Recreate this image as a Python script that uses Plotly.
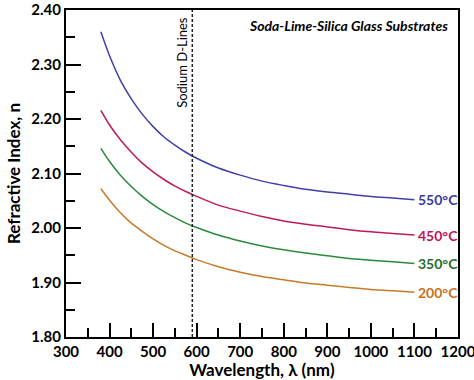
import plotly.graph_objects as go

wavelength = [380, 400, 425, 450, 475, 500, 525, 550, 575, 600, 650, 700, 750, 800, 850, 900, 950, 1000, 1050, 1100]
n_550 = [2.360, 2.316, 2.271, 2.237, 2.209, 2.186, 2.167, 2.152, 2.139, 2.128, 2.110, 2.097, 2.086, 2.078, 2.071, 2.066, 2.062, 2.058, 2.055, 2.052]
n_450 = [2.216, 2.189, 2.162, 2.139, 2.119, 2.103, 2.089, 2.077, 2.067, 2.058, 2.042, 2.031, 2.021, 2.013, 2.007, 2.002, 1.997, 1.993, 1.990, 1.987]
n_350 = [2.146, 2.122, 2.097, 2.076, 2.058, 2.043, 2.030, 2.019, 2.009, 2.001, 1.987, 1.976, 1.967, 1.960, 1.954, 1.949, 1.944, 1.941, 1.938, 1.935]
n_200 = [2.072, 2.051, 2.028, 2.009, 1.994, 1.980, 1.968, 1.958, 1.950, 1.942, 1.929, 1.919, 1.911, 1.905, 1.899, 1.895, 1.891, 1.887, 1.885, 1.882]
series_labels = ["550°C", "450°C", "350°C", "200°C"]
line_colors = ["#4040a8", "#c0185e", "#2a8a3a", "#c87a28"]
label_colors = ["#3a3aa0", "#c0145a", "#1f6e2a", "#c87020"]
sodium_d = 590

FONT = "Lato"
fig = go.Figure()
all_n = [n_550, n_450, n_350, n_200]
for vals, name, col, lcol in zip(all_n, series_labels, line_colors, label_colors):
    fig.add_trace(go.Scatter(x=wavelength, y=vals, mode="lines", name=name,
                             line=dict(color=col, width=1.5, shape="spline", smoothing=0.8), showlegend=False))
    fig.add_annotation(x=wavelength[-1], y=vals[-1], text=f"<b>{name}</b>", showarrow=False,
                       xanchor="left", xshift=2, font=dict(family=FONT, size=14, color=lcol))

fig.add_shape(type="line", x0=sodium_d, x1=sodium_d, y0=1.80, y1=2.40, xref="x", yref="y",
              line=dict(color="#222", width=1.5, dash="3px,2px"))
fig.add_annotation(x=sodium_d, y=2.40, yshift=-5, text="Sodium D-Lines", textangle=-90, showarrow=False,
                   xanchor="right", yanchor="top", xshift=-1, font=dict(family=FONT, size=13, color="black"))
fig.add_annotation(x=0.98, y=0.985, xref="paper", yref="paper", text="<b><i>Soda-Lime-Silica Glass Substrates</i></b>",
                   showarrow=False, xanchor="right", yanchor="top", font=dict(family=FONT, size=14, color="black"))

axis_common = dict(showline=True, linecolor="black", linewidth=2, mirror=True, ticks="inside",
                   tickwidth=2, tickcolor="black", showgrid=False, zeroline=False, automargin=False,
                   ticklabeloverflow="allow",
                   tickfont=dict(family=FONT, size=15, color="black", weight="bold"))
fig.update_xaxes(range=[300, 1200], dtick=100, ticklen=14,
                 minor=dict(ticks="inside", dtick=50, ticklen=9, tickwidth=2, tickcolor="black"),
                 title=dict(text="<b>Wavelength, λ (nm)</b>", font=dict(family=FONT, size=17, color="black"), standoff=2),
                 **axis_common)
fig.update_yaxes(range=[1.80, 2.40], dtick=0.1, tickformat=".2f", ticklen=15,
                 minor=dict(ticks="inside", dtick=0.05, ticklen=9, tickwidth=2, tickcolor="black"),
                 title=dict(text="<b>Refractive Index, n</b>", font=dict(family=FONT, size=17, color="black"), standoff=6),
                 **axis_common)
fig.update_layout(width=474, height=380, margin=dict(l=66, r=16, t=10, b=43),
                  plot_bgcolor="white", paper_bgcolor="white")
fig.write_html("out.html", config={"displayModeBar": False},
               post_script="document.body.style.margin='0';document.body.style.overflow='hidden';")
